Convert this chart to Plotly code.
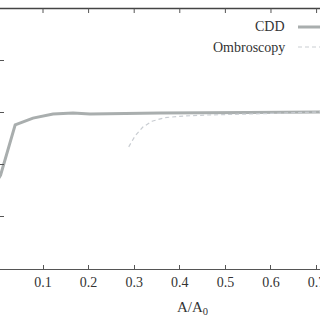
import plotly.graph_objects as go

# CDD series
cdd_x = [0.000, 0.007, 0.039, 0.078, 0.122, 0.166, 0.203, 0.357, 0.550, 0.710, 0.750]
cdd_y = [1.70, 1.80, 2.76, 2.89, 2.97, 2.99, 2.97, 2.99, 3.00, 3.01, 3.01]

# Ombroscopy series
omb_x = [0.288, 0.302, 0.319, 0.339, 0.367, 0.407, 0.460, 0.517, 0.600, 0.710, 0.750]
omb_y = [2.34, 2.55, 2.72, 2.83, 2.90, 2.93, 2.95, 2.96, 2.98, 3.01, 3.01]

x_ticks = [0.1, 0.2, 0.3, 0.4, 0.5, 0.6, 0.7]
x_tick_labels = ["0.1", "0.2", "0.3", "0.4", "0.5", "0.6", "0.7"]
y_ticks = [0, 1, 2, 3, 4, 5]

font_family = "Liberation Serif"
axis_color = "#555555"
x_range = [0.0057, 0.7075]
plot_h = 261

fig = go.Figure()
fig.add_trace(go.Scatter(x=cdd_x, y=cdd_y, mode="lines", name="CDD",
                         line=dict(color="#a9aeae", width=3), showlegend=False))
fig.add_trace(go.Scatter(x=omb_x, y=omb_y, mode="lines", name="Ombroscopy",
                         line=dict(color="#c9cdd2", width=1.2, dash="4px,3px"),
                         showlegend=False))

# top frame line and its inward ticks
top_y = 1 - 0.5 / plot_h
fig.add_shape(type="line", xref="paper", yref="paper", x0=0, x1=1, y0=top_y, y1=top_y,
              line=dict(color="#444444", width=1.3), layer="above")
for t in x_ticks:
    fig.add_shape(type="line", xref="x", yref="paper", x0=t, x1=t,
                  y0=top_y, y1=1 - 5 / plot_h, line=dict(color=axis_color, width=1),
                  layer="above")

# manual legend (text left of line sample)
legend_items = [("CDD", 27, dict(color="#a9aeae", width=3)),
                ("Ombroscopy", 47, dict(color="#c9cdd2", width=1.2, dash="4px,3px"))]
for label, ypx, ln in legend_items:
    yp = 1 - (ypx - 8) / plot_h
    fig.add_annotation(x=287 / 320, y=yp, xref="paper", yref="paper", text=label,
                       showarrow=False, xanchor="right", yanchor="middle",
                       font=dict(family=font_family, size=14, color="#333333"))
    fig.add_shape(type="line", xref="paper", yref="paper",
                  x0=298 / 320, x1=1.05, y0=yp, y1=yp, line=ln)

# x-axis title (placed where the original's off-centre title sits)
fig.add_annotation(x=192 / 320, y=-(308 - 269) / plot_h, xref="paper", yref="paper",
                   text="A/A<sub>0</sub>", showarrow=False,
                   xanchor="center", yanchor="middle",
                   font=dict(family=font_family, size=15, color="#333333"))

fig.update_layout(
    xaxis=dict(range=x_range, tickvals=x_ticks, ticktext=x_tick_labels,
               ticks="inside", ticklen=4, tickcolor=axis_color,
               showline=True, linecolor=axis_color, linewidth=1,
               showgrid=False, zeroline=False, automargin=False,
               ticklabeloverflow="allow",
               tickfont=dict(family=font_family, size=14, color="#333333")),
    yaxis=dict(range=[0, 5], tickvals=y_ticks, showticklabels=False,
               ticks="inside", ticklen=4, tickcolor=axis_color, automargin=False,
               showline=False, showgrid=False, zeroline=False),
    width=320, height=320, margin=dict(l=0, r=0, t=8, b=51),
    paper_bgcolor="white", plot_bgcolor="white",
    font=dict(family=font_family))

fig.write_html("out.html", config={"displayModeBar": False},
               post_script="document.body.style.margin='0';document.body.style.overflow='hidden';")
